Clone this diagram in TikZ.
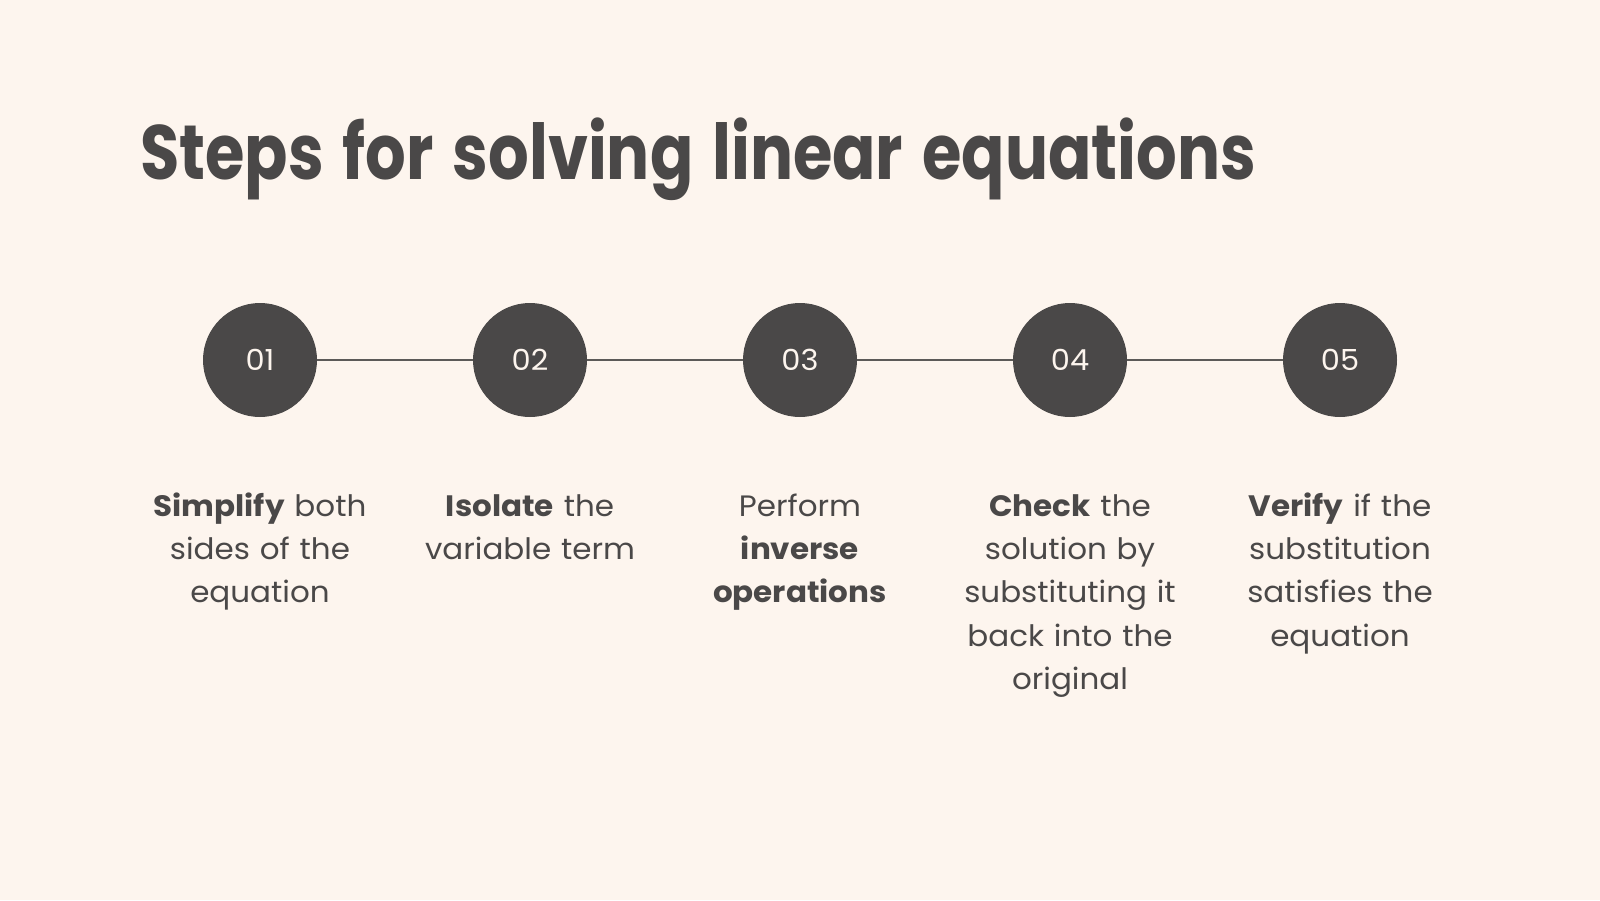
\documentclass[tikz,border=0pt]{standalone}
\usepackage{fontspec}
\setmainfont{Poppins}
\newfontfamily\titlefont[FakeStretch=0.83, WordSpace=1.4]{Poppins}
\newfontfamily\bodyfont[FakeStretch=1.05]{Poppins}
\definecolor{paper}{HTML}{FDF5EE}
\definecolor{ink}{HTML}{4A4848}
\definecolor{rule}{HTML}{5C5A58}
\tikzset{
  stepdot/.style={circle, fill=ink, minimum size=114pt, inner sep=0pt, text=paper,
    font=\bodyfont\fontsize{29}{34}\selectfont},
  steptext/.style={anchor=north, align=center, text width=250pt, inner sep=0pt, text=ink,
    font=\bodyfont\fontsize{29.5}{43.4}\selectfont},
  link/.style={rule, line width=2pt}
}
\begin{document}
\begin{tikzpicture}[x=1pt, y=-1pt]

\fill[paper] (0,0) rectangle (1600,900);
\node[anchor=base west, inner sep=0pt, text=ink, font=\titlefont\fontsize{77}{90}\selectfont\bfseries] (title) at (140,179) {Steps for solving linear equations};

\foreach \i/\x in {1/260,2/530,3/800,4/1070,5/1340}
{
    \node[stepdot] (s\i) at (\x,360) {0\i};
}
\foreach \i/\j in {1/2,2/3,3/4,4/5}
{
    \draw[link] (s\i) -- (s\j);
}

\node[steptext] (t1) at (260,485.6) {\strut\textbf{Simplify} both\\sides of the\\equation};
\node[steptext] (t2) at (530,485.6) {\strut\textbf{Isolate} the\\variable term};
\node[steptext] (t3) at (800,485.6) {\strut Perform\\\textbf{inverse}\\\textbf{operations}};
\node[steptext] (t4) at (1070,485.6) {\strut\textbf{Check} the\\solution by\\substituting it\\back into the\\original};
\node[steptext] (t5) at (1340,485.6) {\strut\textbf{Verify} if the\\substitution\\satisfies the\\equation};
     \end{tikzpicture}
\end{document}
